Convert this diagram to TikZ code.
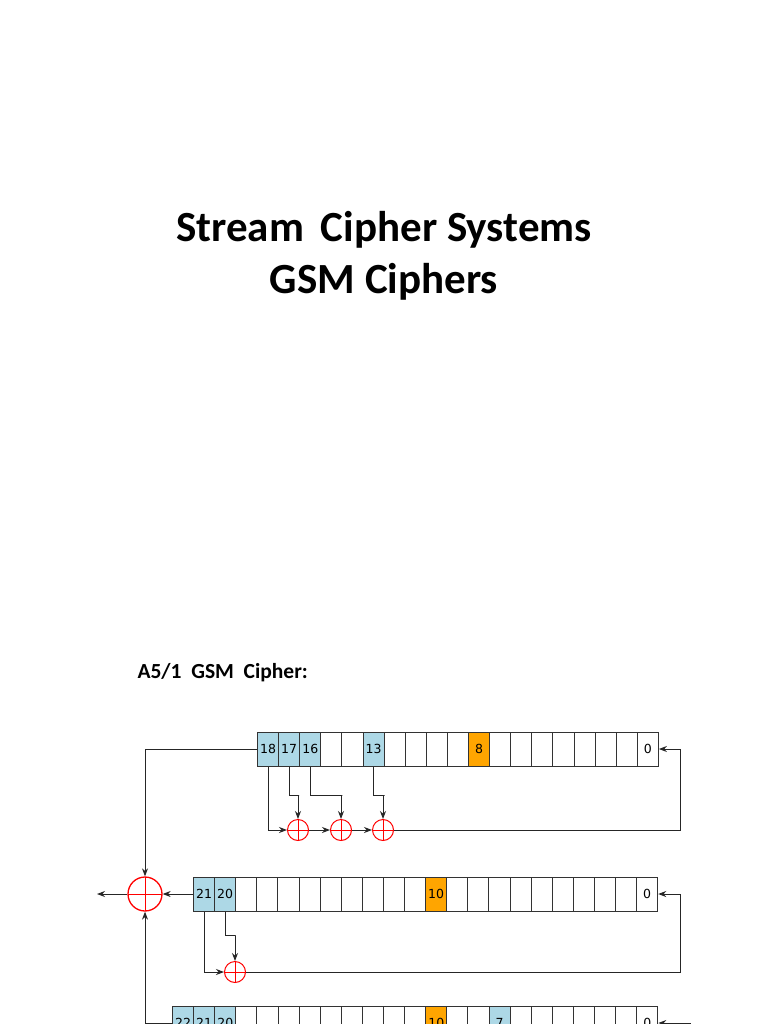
\documentclass[tikz,border=0pt]{standalone}
\usepackage{fontspec}
\setmainfont{Carlito}
\newfontfamily\cellfont{DejaVu Sans}
\usetikzlibrary{arrows.meta}
\definecolor{cblue}{HTML}{ADD8E6}
\definecolor{corange}{HTML}{FFA500}
\begin{document}
\begin{tikzpicture}[x=1pt,y=-1pt,
  cell/.style={draw=black!80,line width=1pt,minimum width=21.1pt,minimum height=34pt,inner sep=0pt,font=\cellfont\fontsize{12.5}{12.5}\selectfont,anchor=west},
  wire/.style={draw=black!85,line width=1pt},
  arr/.style={wire,-{Stealth[length=8pt,width=6pt]}},
  xorc/.style={circle,draw=red,line width=1pt,minimum size=21pt,inner sep=0pt,path picture={\draw[red,line width=1pt] (path picture bounding box.north)--(path picture bounding box.south) (path picture bounding box.west)--(path picture bounding box.east);}},
  bigxor/.style={xorc,minimum size=34pt,line width=1.3pt}]
\useasboundingbox (0,0) rectangle (768,1024);
\clip (0,0) rectangle (768,1024);
\fill[white] (0,0) rectangle (768,1024);
\node[font=\bfseries\fontsize{43}{52}\selectfont,align=center] (title) at (384,256) {Stream\, Cipher Systems\\GSM Ciphers};
\node[font=\bfseries\fontsize{21.5}{24}\selectfont,anchor=west] (sub) at (134,673) {A5/1\ \ GSM\ \ Cipher:};
% registers
\foreach \k in {0,...,18}{
  \pgfmathtruncatemacro\lab{18-\k}
  \def\fc{white}
  \ifnum\lab=18 \def\fc{cblue}\fi \ifnum\lab=17 \def\fc{cblue}\fi \ifnum\lab=16 \def\fc{cblue}\fi \ifnum\lab=13 \def\fc{cblue}\fi \ifnum\lab=8 \def\fc{corange}\fi
  \def\tx{}
  \ifnum\lab=18 \def\tx{18}\fi \ifnum\lab=17 \def\tx{17}\fi \ifnum\lab=16 \def\tx{16}\fi \ifnum\lab=13 \def\tx{13}\fi \ifnum\lab=8 \def\tx{8}\fi \ifnum\lab=0 \def\tx{0}\fi
  \node[cell,fill=\fc] (a\lab) at ({257+21.1*\k},749) {\tx};
}
\foreach \k in {0,...,21}{
  \pgfmathtruncatemacro\lab{21-\k}
  \def\fc{white}
  \ifnum\lab=21 \def\fc{cblue}\fi \ifnum\lab=20 \def\fc{cblue}\fi \ifnum\lab=10 \def\fc{corange}\fi
  \def\tx{}
  \ifnum\lab=21 \def\tx{21}\fi \ifnum\lab=20 \def\tx{20}\fi \ifnum\lab=10 \def\tx{10}\fi \ifnum\lab=0 \def\tx{0}\fi
  \node[cell,fill=\fc] (b\lab) at ({193+21.1*\k},894) {\tx};
}
\foreach \k in {0,...,22}{
  \pgfmathtruncatemacro\lab{22-\k}
  \def\fc{white}
  \ifnum\lab=22 \def\fc{cblue}\fi \ifnum\lab=21 \def\fc{cblue}\fi \ifnum\lab=20 \def\fc{cblue}\fi \ifnum\lab=10 \def\fc{corange}\fi \ifnum\lab=7 \def\fc{cblue}\fi
  \def\tx{}
  \ifnum\lab=22 \def\tx{22}\fi \ifnum\lab=21 \def\tx{21}\fi \ifnum\lab=20 \def\tx{20}\fi \ifnum\lab=10 \def\tx{10}\fi \ifnum\lab=7 \def\tx{7}\fi \ifnum\lab=0 \def\tx{0}\fi
  \node[cell,fill=\fc] (c\lab) at ({172+21.1*\k},1023) {\tx};
}
% xors
\node[xorc] (x1) at (298,830) {};
\node[xorc] (x2) at (341,830) {};
\node[xorc] (x3) at (383,830) {};
\node[xorc] (x4) at (235,972) {};
\node[bigxor] (X) at (145,894) {};
\coordinate (out) at (97,894);
% register 1 taps
\draw[arr] (a18.south) |- (x1.west);
\draw[arr] (a17.south) |- ++(10,29) -| (x1.north);
\draw[arr] (a16.south) |- ++(32,29) -| (x2.north);
\draw[arr] (a13.south) |- ++(11,29) -| (x3.north);
\draw[arr] (x1.east) -- (x2.west);
\draw[arr] (x2.east) -- (x3.west);
\draw[arr] (x3.east) -- (680,830) |- (a0.east);
% register 2 taps
\draw[arr] (b21.south) |- (x4.west);
\draw[arr] (b20.south) |- ++(10,24) -| (x4.north);
\draw[arr] (x4.east) -- (680,972) |- (b0.east);
% outputs
\draw[arr] (a18.west) -| (X.north);
\draw[arr] (b21.west) -- (X.east);
\draw[arr] (c22.west) -| (X.south);
\draw[arr] (X.west) -- (out);
\draw[arr] (690,1050) |- (c0.east);
\end{tikzpicture}
\end{document}
